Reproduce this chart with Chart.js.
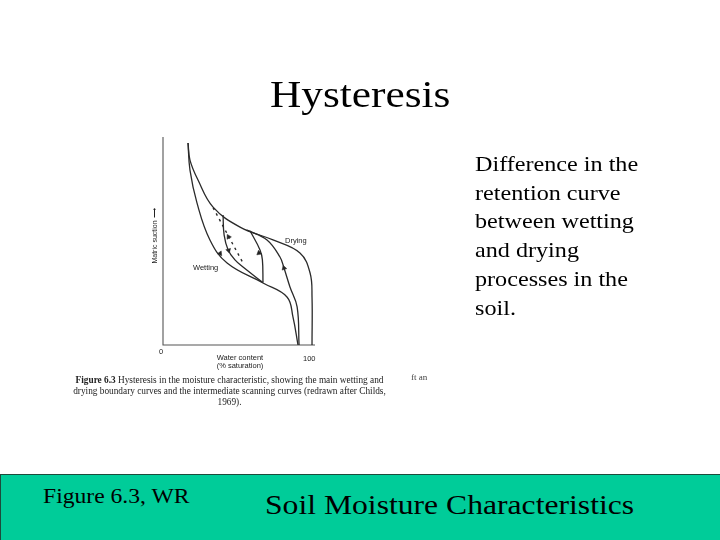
<!DOCTYPE html>
<html>
<head>
<meta charset="utf-8">
<script src="https://cdn.jsdelivr.net/npm/chart.js@4.4.1/dist/chart.umd.min.js"></script>
<style>
  body { margin: 0; background: #fff; }
  #slide { position: relative; width: 720px; height: 540px; overflow: hidden; background: #fff; }
  #grafico { position: absolute; left: 0; top: 0; }
  .t { position: absolute; white-space: nowrap; transform-origin: left center; }
  .serif { font-family: "Liberation Serif", "DejaVu Serif", serif; color: #000; }
  .sans { font-family: "Liberation Sans", Arial, sans-serif; color: #222; font-size: 7.5px; }
  #barra { position: absolute; left: 0; top: 474px; width: 720px; height: 66px; background: #0c9; border-top: 1.5px solid #1d4b3c; border-left: 1.5px solid #1d4b3c; box-sizing: border-box; }
</style>
</head>
<body>
<div id="slide">
  <canvas id="grafico" width="720" height="540"></canvas>

  <div class="t serif" style="left:270px; top:73px; font-size:37px; transform:scaleX(1.17);">Hysteresis</div>

  <div class="t serif" style="left:475px; top:150px; font-size:21px; line-height:28.7px; transform:scaleX(1.15); transform-origin:left top;">
    Difference in the<br>retention curve<br>between wetting<br>and drying<br>processes in the<br>soil.
  </div>

  <!-- rotulos del grafico escaneado -->
  <div class="t sans" style="left:155px; top:236px; transform:translate(-50%,-50%) rotate(-90deg); transform-origin:center; font-size:7px;">Matric suction &#x27F6;</div>
  <div class="t sans" style="left:285px; top:236px;">Drying</div>
  <div class="t sans" style="left:193px; top:263px;">Wetting</div>
  <div class="t sans" style="left:159px; top:347px;">0</div>
  <div class="t sans" style="left:303px; top:354px;">100</div>
  <div class="t sans" style="left:215px; top:354px; width:50px; text-align:center; line-height:8px;">Water content<br>(% saturation)</div>

  <div class="t serif" style="left:52px; top:375px; width:355px; text-align:center; font-size:9.3px; line-height:11px; color:#222;">
    <b>Figure 6.3</b> Hysteresis in the moisture characteristic, showing the main wetting and<br>drying boundary curves and the intermediate scanning curves (redrawn after Childs,<br>1969).
  </div>
  <div class="t serif" style="left:411px; top:372px; font-size:9px; color:#444;">ft an</div>

  <div id="barra"></div>
  <div class="t serif" style="left:43px; top:485px; font-size:20px; transform:scaleX(1.18);">Figure 6.3, WR</div>
  <div class="t serif" style="left:265px; top:489px; font-size:28px; transform:scaleX(1.13);">Soil Moisture Characteristics</div>
</div>

<script>
// Curvas (x = contenido de agua %, y = succion matrica relativa)
const secadoX = [16.8, 18.1, 23.5, 33.6, 51.7, 73.8, 91.9, 98.7, 100, 100];
const secadoY = [97.1, 88.9, 79.3, 66.3, 56.7, 50.5, 44.2, 34.6, 23.1, 0];

const humedX = [16.8, 18.1, 22.8, 31.5, 43.0, 67.1, 83.2, 87.2, 90.6];
const humedY = [97.1, 84.1, 68.3, 50.5, 39.4, 29.8, 23.1, 13.5, 0];

// curva de secado que parte del final de la de humedecimiento
const secado2X = [91.3, 90.0, 85.2, 81.2, 78.5, 69.8, 56.4];
const secado2Y = [0, 18.3, 27.9, 37.0, 42.3, 50.5, 55.3];

// curvas de barrido intermedias
const barridoSecX = [67.1, 66.7, 65.1, 58.4];
const barridoSecY = [30.0, 40.9, 45.7, 54.9];

const barridoHumX = [40.3, 41.0, 43.7, 48.3, 53.7, 67.1];
const barridoHumY = [62.5, 52.9, 45.7, 40.9, 37.5, 30.0];

const punteadaX = [33.6, 53.7];
const punteadaY = [66.0, 39.4];

// puntas de flecha sobre las curvas
const flechasX = [38.3, 44.0, 44.0, 64.4, 81.2];
const flechasY = [44.0, 52.0, 45.5, 44.2, 37.0];
const flechasAng = [144, -29, 165, -10, -18];

function puntos(xs, ys) {
    return xs.map((x, i) => ({ x: x, y: ys[i] }));
}

function curva(xs, ys, extra) {
    return Object.assign({
        data: puntos(xs, ys),
        showLine: true,
        borderColor: '#2a2a2a',
        borderWidth: 1.3,
        pointRadius: 0,
        tension: 0.4,
        fill: false
    }, extra || {});
}

// dibuja los ejes como en la figura escaneada
const ejesPlugin = {
    id: 'ejes',
    beforeDatasetsDraw(chart) {
        const a = chart.chartArea;
        const ctx = chart.ctx;
        ctx.save();
        ctx.strokeStyle = '#555';
        ctx.lineWidth = 1.1;
        ctx.beginPath();
        ctx.moveTo(a.left, a.top);
        ctx.lineTo(a.left, a.bottom);
        ctx.lineTo(a.right, a.bottom);
        ctx.stroke();
        ctx.restore();
    }
};

new Chart(document.getElementById('grafico'), {
    type: 'scatter',
    data: {
        datasets: [
            curva(secadoX, secadoY),
            curva(humedX, humedY),
            curva(secado2X, secado2Y),
            curva(barridoSecX, barridoSecY),
            curva(barridoHumX, barridoHumY),
            curva(punteadaX, punteadaY, { borderDash: [2.5, 4], tension: 0, borderWidth: 1.4 }),
            {
                data: puntos(flechasX, flechasY),
                showLine: false,
                pointStyle: 'triangle',
                rotation: flechasAng,
                pointRadius: 2.8,
                backgroundColor: '#222',
                borderColor: '#222',
                borderWidth: 0.5
            }
        ]
    },
    options: {
        responsive: false,
        animation: false,
        layout: { padding: { left: 163, right: 405, top: 137, bottom: 195 } },
        plugins: { legend: { display: false }, tooltip: { enabled: false } },
        scales: {
            x: { type: 'linear', min: 0, max: 102, display: false },
            y: { type: 'linear', min: 0, max: 100, display: false }
        },
        elements: { line: { capBezierPoints: true } }
    },
    plugins: [ejesPlugin]
});
</script>
</body>
</html>
